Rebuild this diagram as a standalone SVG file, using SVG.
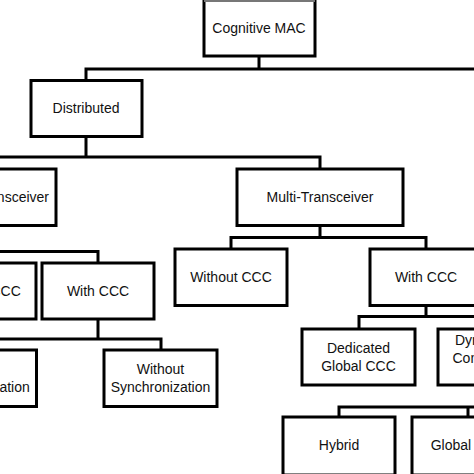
<svg xmlns="http://www.w3.org/2000/svg" width="474" height="474" viewBox="0 0 474 474">
<style>
.box{fill:#fff;stroke:#000;stroke-width:3}
.ln{fill:none;stroke:#000;stroke-width:3;stroke-linecap:square}
text{font-family:"Liberation Sans",Arial,sans-serif;font-size:14px;fill:#111}
.c{text-anchor:middle}
</style>
<rect width="474" height="474" fill="#fff"/>
<g id="connectors">
<path class="ln" d="M259,56V69M86,69H480M86,69V80"/>
<path class="ln" d="M86,137V157M-27,157H320M320,157V169"/>
<path class="ln" d="M320,226V237.5M231,237.5H426M231,237.5V249M426,237.5V249"/>
<path class="ln" d="M-20,251.5H98M98,251.5V263"/>
<path class="ln" d="M98,319V339M-20,339H161M161,339V350"/>
<path class="ln" d="M426,306V316.5M359,316.5H480M359,316.5V329"/>
<path class="ln" d="M339,407H480M339,407V417M468,407V417"/>
</g>
<g id="cognitive-mac"><rect class="box" x="204" y="-1" width="111" height="57"/><line x1="204" y1="1" x2="315" y2="1" stroke="#777" stroke-width="2"/><text class="c" x="259" y="33">Cognitive MAC</text></g>
<g id="distributed"><rect class="box" x="31" y="80.5" width="111" height="56"/><text class="c" x="86" y="113">Distributed</text></g>
<g id="single-transceiver"><rect class="box" x="-110" y="169" width="166" height="56.5"/><text x="49" y="202" text-anchor="end">Single-Transceiver</text></g>
<g id="multi-transceiver"><rect class="box" x="237" y="169" width="166" height="56.5"/><text class="c" x="320" y="202">Multi-Transceiver</text></g>
<g id="single-without-ccc"><rect class="box" x="-76" y="263" width="112" height="56"/><text class="c" x="-20" y="296">Without CCC</text></g>
<g id="single-with-ccc"><rect class="box" x="42" y="263" width="112" height="56"/><text class="c" x="98" y="296">With CCC</text></g>
<g id="multi-without-ccc"><rect class="box" x="175" y="249" width="112" height="56.5"/><text class="c" x="231" y="282">Without CCC</text></g>
<g id="multi-with-ccc"><rect class="box" x="370" y="249" width="112" height="56.5"/><text class="c" x="426" y="282">With CCC</text></g>
<g id="with-sync"><rect class="box" x="-76" y="350" width="112.5" height="56.5"/><text class="c" x="-20" y="392">Synchronization</text></g>
<g id="without-sync"><rect class="box" x="104" y="350" width="113" height="56.5"/><text class="c" x="160.5" y="374">Without</text><text class="c" x="160.5" y="392">Synchronization</text></g>
<g id="dedicated-global-ccc"><rect class="box" x="302" y="329" width="113" height="56"/><text class="c" x="358.5" y="353">Dedicated</text><text class="c" x="358.5" y="371">Global CCC</text></g>
<g id="dynamic"><rect class="box" x="438" y="329" width="113" height="56"/><text x="455" y="345">Dynamic</text><text x="452.5" y="363">Common</text></g>
<g id="hybrid"><rect class="box" x="283" y="417" width="112" height="58"/><text class="c" x="339" y="450">Hybrid</text></g>
<g id="global-ccc"><rect class="box" x="412" y="417" width="113" height="58"/><text class="c" x="468" y="450">Global CCC</text></g>
</svg>
